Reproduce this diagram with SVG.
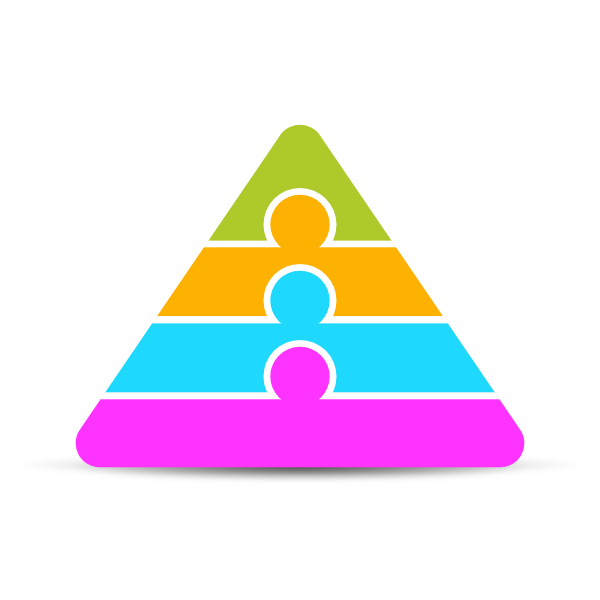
<svg xmlns="http://www.w3.org/2000/svg" width="600" height="600" viewBox="0 0 600 600">
  <defs>
    <clipPath id="tri">
      <path d="M 280.14,135.21 A 24 24 0 0 1 319.86,135.21 L 520.21,429.82 A 24 24 0 0 1 500.37,467.3 L 99.63,467.3 A 24 24 0 0 1 79.79,429.82 Z"/>
    </clipPath>
    <radialGradient id="shadow" cx="0.5" cy="0.5" r="0.5">
      <stop offset="0" stop-color="#000" stop-opacity="0.3"/>
      <stop offset="0.6" stop-color="#000" stop-opacity="0.15"/>
      <stop offset="1" stop-color="#000" stop-opacity="0"/>
    </radialGradient>
    <radialGradient id="shadowDark" cx="0.5" cy="0.5" r="0.5">
      <stop offset="0" stop-color="#000" stop-opacity="0.6"/>
      <stop offset="0.5" stop-color="#000" stop-opacity="0.3"/>
      <stop offset="1" stop-color="#000" stop-opacity="0"/>
    </radialGradient>
    <filter id="blur" x="-10%" y="-100%" width="120%" height="300%">
      <feGaussianBlur stdDeviation="2.5"/>
    </filter>
    <style>
      .green{fill:#AEC92A}
      .orange{fill:#FDB100}
      .cyan{fill:#1FD9FD}
      .magenta{fill:#FF33FF}
      .gap{fill:#FFFFFF}
    </style>
  </defs>
  <rect width="600" height="600" fill="#FFFFFF"/>
  <g id="shadow-base">
    <ellipse cx="300" cy="465" rx="284" ry="11" fill="url(#shadow)" filter="url(#blur)"/>
    <ellipse cx="300" cy="467" rx="230" ry="14" fill="url(#shadowDark)" filter="url(#blur)"/>
  </g>
  <g clip-path="url(#tri)">
    <g id="layer1">
      <rect class="green" x="0" y="100" width="600" height="140.6"/>
    </g>
    <g id="layer2">
      <circle class="gap" cx="300" cy="224.5" r="36.5"/>
      <rect class="orange" x="0" y="247.3" width="600" height="68.7"/>
      <circle class="orange" cx="300" cy="224.5" r="29.7"/>
    </g>
    <g id="layer3">
      <circle class="gap" cx="300" cy="300.5" r="36.5"/>
      <rect class="cyan" x="0" y="323.4" width="600" height="68.9"/>
      <circle class="cyan" cx="300" cy="300.5" r="29.7"/>
    </g>
    <g id="layer4">
      <circle class="gap" cx="300" cy="376.4" r="36.5"/>
      <rect class="magenta" x="0" y="399.3" width="600" height="70"/>
      <circle class="magenta" cx="300" cy="376.4" r="29.7"/>
    </g>
  </g>
  <g id="connectors"/>
</svg>
